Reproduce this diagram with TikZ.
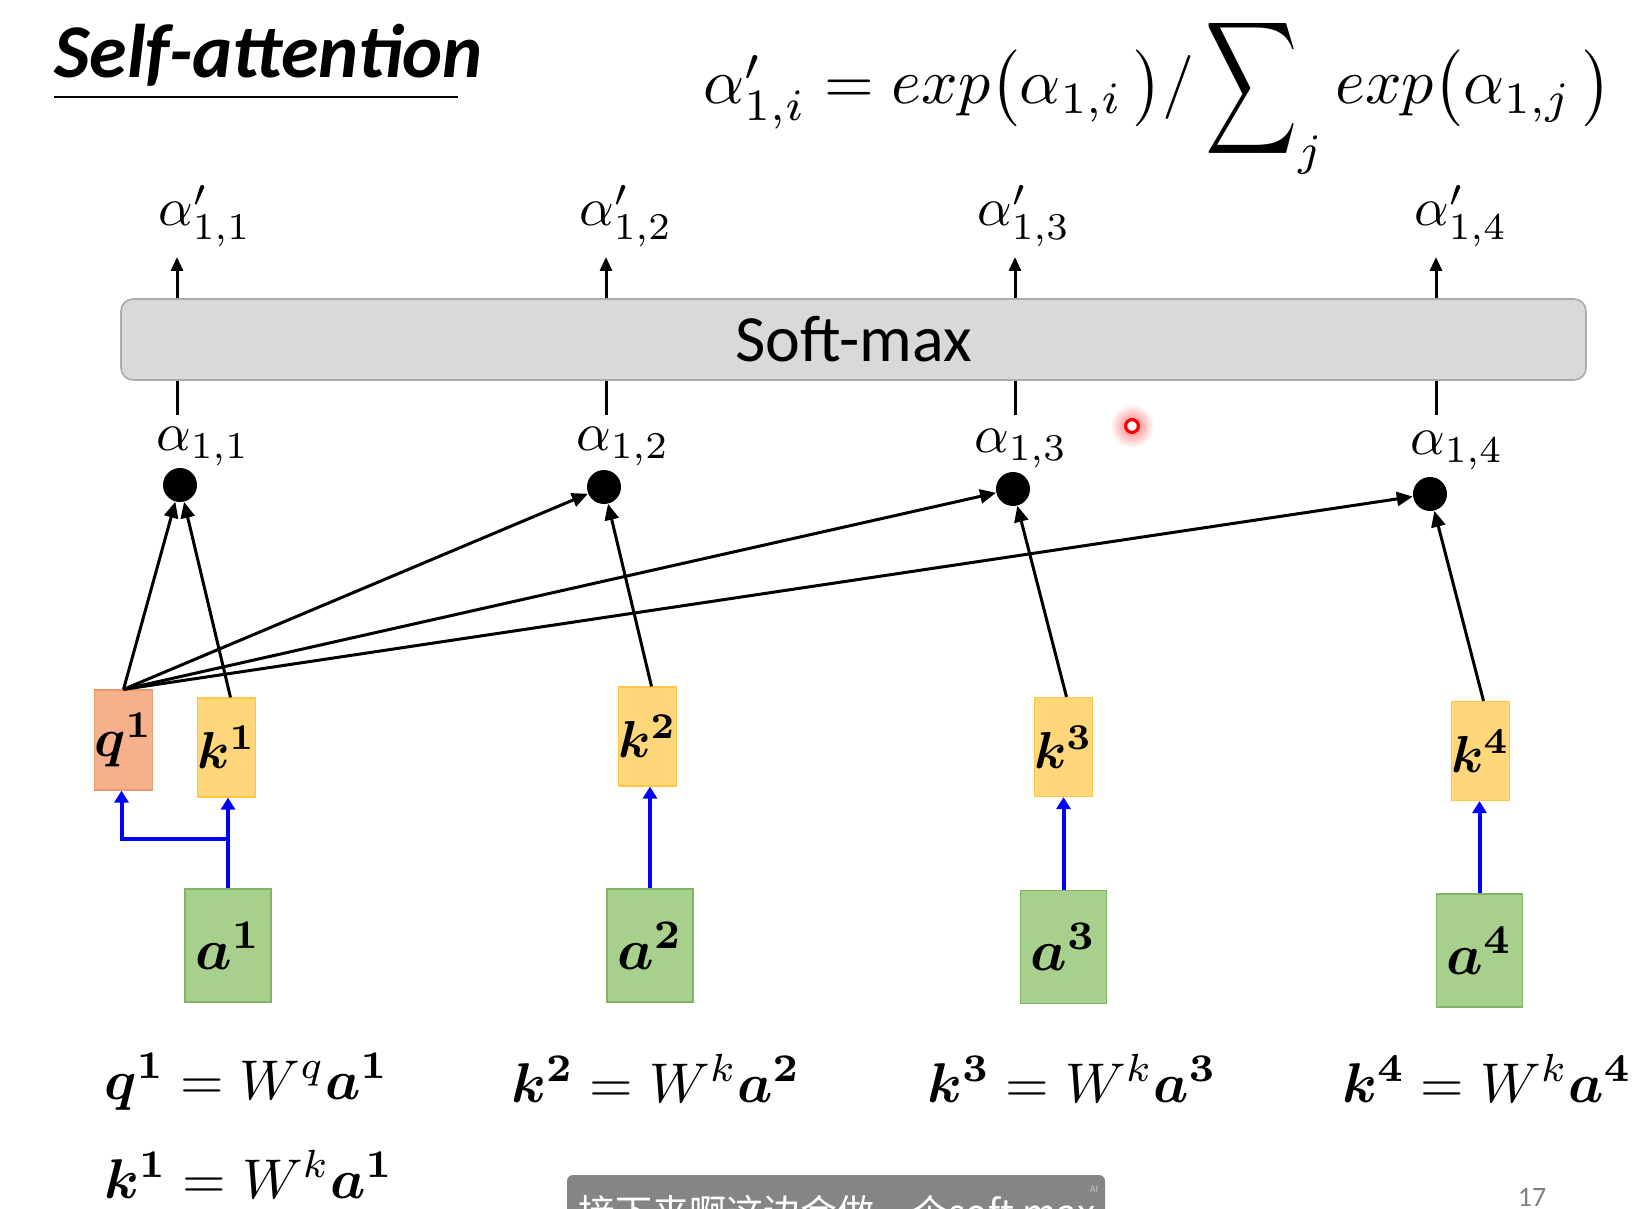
\documentclass[tikz,border=0pt]{standalone}
\usepackage{amsmath,bm}
\usepackage{fontspec}
\setmainfont{Carlito}
\newfontfamily\cjk{Noto Sans CJK SC}
\usetikzlibrary{arrows.meta}
\definecolor{qfill}{HTML}{F6B08C}
\definecolor{qborder}{HTML}{EE9A70}
\definecolor{kfill}{HTML}{FFD77A}
\definecolor{kborder}{HTML}{FFC74A}
\definecolor{afill}{HTML}{A8D08D}
\definecolor{aborder}{HTML}{82B366}
\definecolor{barfill}{HTML}{D9D9D9}
\definecolor{barborder}{HTML}{ABABAB}
\definecolor{subgray}{HTML}{858585}
\newcommand{\smath}[2]{\scalebox{#1}{$#2$}}
\newcommand{\bigsum}{\mathop{\vcenter{\hbox{\scalebox{1}[1.45]{$\displaystyle\sum$}}}}\nolimits}
\begin{document}
\begin{tikzpicture}[x=0.5pt,y=-0.5pt,
  qbox/.style={draw=qborder, fill=qfill, line width=0.6pt, minimum width=27.5pt, minimum height=50pt, inner sep=0pt},
  kbox/.style={draw=kborder, fill=kfill, line width=0.6pt, minimum width=26.5pt, minimum height=49.5pt, inner sep=0pt},
  abox/.style={draw=aborder, fill=afill, line width=0.6pt, minimum width=43pt, minimum height=56.5pt, inner sep=0pt},
  dotnode/.style={circle, fill=black, minimum size=17pt, inner sep=0pt},
  lab/.style={anchor=west, inner sep=0pt},
  eqn/.style={anchor=base west, inner sep=0pt},
  att/.style={line width=1.5pt, -{Triangle[length=8pt,width=7pt]}},
  upar/.style={line width=1.5pt, -{Triangle[length=7pt,width=6pt]}},
  tick/.style={line width=1.5pt},
  blu/.style={blue, line width=2pt, -{Triangle[length=6pt,width=7pt]}}
]
\useasboundingbox (0,0) rectangle (1634,1209);
\fill[white] (0,0) rectangle (1634,1209);

% title
\node[anchor=base west, inner sep=0pt, font=\fontsize{38}{42}\selectfont\bfseries\itshape] (title) at (54,78) {Self-attention};
\draw[line width=1.1pt] (54,97) -- (458,97);

% formula
\node[anchor=base west, inner sep=0pt] (formula) at (703,104)
  {\smath{3.2}{\alpha'_{1,i} = exp\big(\alpha_{1,i}\,\big)/\bigsum_j exp\big(\alpha_{1,j}\,\big)}};

% soft-max bar
\node[draw=barborder, fill=barfill, line width=0.8pt, rounded corners=6pt, minimum width=732.5pt, minimum height=40.5pt, inner sep=0pt, font=\fontsize{33}{36}\selectfont] (sm) at (853.5,339.5) {Soft-max};

% column coordinates
\coordinate (t1) at (177,257);
\coordinate (t2) at (606,257);
\coordinate (t3) at (1015,257);
\coordinate (t4) at (1436,257);
\coordinate (b1) at (177,415);
\coordinate (b2) at (606,415);
\coordinate (b3) at (1015,415);
\coordinate (b4) at (1436,415);

% output labels
\node[lab] (lp1) at (158,216) {\smath{2.7}{\alpha'_{1,1}}};
\node[lab] (lp2) at (579,216) {\smath{2.7}{\alpha'_{1,2}}};
\node[lab] (lp3) at (977,216) {\smath{2.7}{\alpha'_{1,3}}};
\node[lab] (lp4) at (1414,216) {\smath{2.7}{\alpha'_{1,4}}};

\foreach \i in {1,2,3,4} {
  \draw[upar] (t\i |- sm.north) -- (t\i);
  \draw[tick] (b\i |- sm.south) -- (b\i);
}

% input labels
\node[lab] (l1) at (156,447) {\smath{2.7}{\alpha_{1,1}}};
\node[lab] (l2) at (576,447) {\smath{2.7}{\alpha_{1,2}}};
\node[lab] (l3) at (974,449) {\smath{2.7}{\alpha_{1,3}}};
\node[lab] (l4) at (1410,451) {\smath{2.7}{\alpha_{1,4}}};

% dots
\node[dotnode] (d1) at (180,485) {};
\node[dotnode] (d2) at (604,487) {};
\node[dotnode] (d3) at (1013,489) {};
\node[dotnode] (d4) at (1430,494) {};

% q, k boxes
\node[qbox] (q1) at (123.5,740) {\smath{2.7}{\bm{q}^{\bm{1}}}};
\node[kbox] (k1) at (226.5,747.5) {\smath{2.6}{\bm{k}^{\bm{1}}}};
\node[kbox] (k2) at (647.5,736.5) {\smath{2.6}{\bm{k}^{\bm{2}}}};
\node[kbox] (k3) at (1063.5,747) {\smath{2.6}{\bm{k}^{\bm{3}}}};
\node[kbox] (k4) at (1480.5,751) {\smath{2.6}{\bm{k}^{\bm{4}}}};

% a boxes
\node[abox] (a1) at (228,945.5) {\smath{2.9}{\bm{a}^{\bm{1}}}};
\node[abox] (a2) at (650,945.5) {\smath{2.9}{\bm{a}^{\bm{2}}}};
\node[abox] (a3) at (1063.5,947) {\smath{2.9}{\bm{a}^{\bm{3}}}};
\node[abox] (a4) at (1479.5,950.5) {\smath{2.9}{\bm{a}^{\bm{4}}}};

% attention arrows
\draw[att] (q1.north) -- (d1);
\draw[att] ([xshift=2pt]k1.north) -- (d1);
\draw[att] (q1.north) -- (d2);
\draw[att] (q1.north) -- (d3);
\draw[att] (q1.north) -- (d4);
\draw[att] ([xshift=2pt]k2.north) -- (d2);
\draw[att] ([xshift=1.5pt]k3.north) -- (d3);
\draw[att] ([xshift=1.5pt]k4.north) -- (d4);

% blue arrows
\coordinate (br) at (228,839);
\draw[blu] (a1.north) -- (a1.north |- k1.south);
\draw[blu] (br) -| ([xshift=-1pt]q1.south);
\draw[blu] (a2.north) -- (a2.north |- k2.south);
\draw[blu] (a3.north) -- (a3.north |- k3.south);
\draw[blu] (a4.north) -- (a4.north |- k4.south);

% equations
\node[eqn] (e1) at (104,1099) {\smath{2.8}{\bm{q}^{\bm{1}} = W^{q}\bm{a}^{\bm{1}}}};
\node[eqn] (e1b) at (104,1198) {\smath{2.8}{\bm{k}^{\bm{1}} = W^{k}\bm{a}^{\bm{1}}}};
\node[eqn] (e2) at (511,1102) {\smath{2.8}{\bm{k}^{\bm{2}} = W^{k}\bm{a}^{\bm{2}}}};
\node[eqn] (e3) at (927,1102) {\smath{2.8}{\bm{k}^{\bm{3}} = W^{k}\bm{a}^{\bm{3}}}};
\node[eqn] (e4) at (1342,1102) {\smath{2.8}{\bm{k}^{\bm{4}} = W^{k}\bm{a}^{\bm{4}}}};

% laser pointer
\shade[inner color=red!55, outer color=white] (1132,426) circle (11pt);
\draw[red, line width=1.6pt, fill=white] (1132,426) circle (3.2pt);

% subtitle and page number
\begin{scope}
\clip (0,0) rectangle (1634,1209);
\fill[subgray, rounded corners=3pt] (567,1175) rectangle (1105,1250);
\node[anchor=base west, inner sep=0pt, text=white, font=\cjk\fontsize{18.5}{21}\selectfont] (sub) at (578,1226) {接下来啊这边会做一个soft max};
\node[inner sep=0pt, text=gray!45, font=\fontsize{5}{6}\selectfont] (ai) at (1094,1189) {AI};
\end{scope}
\node[inner sep=0pt, text=gray, font=\fontsize{14}{16}\selectfont] (pg) at (1532,1197) {17};
\end{tikzpicture}
\end{document}
